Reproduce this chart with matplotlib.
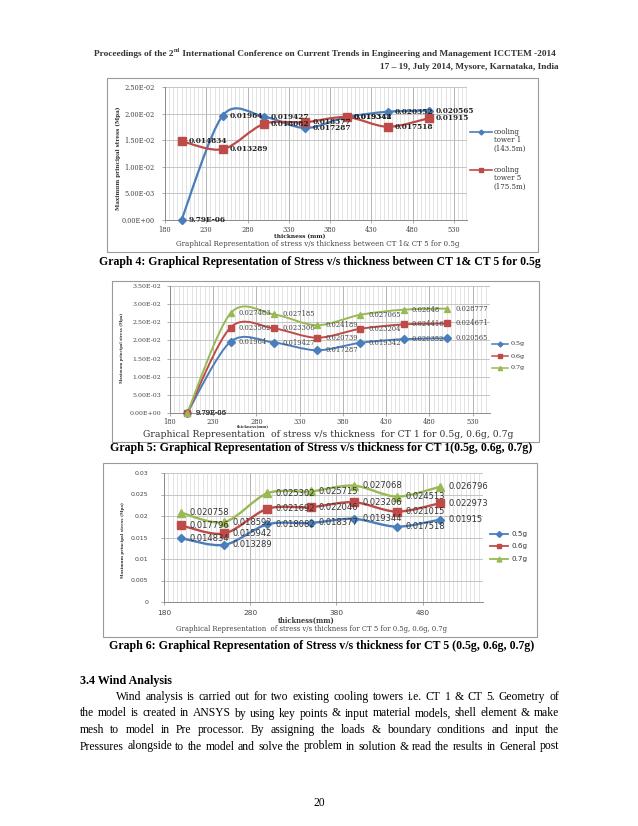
import matplotlib
matplotlib.use("Agg")
import matplotlib.pyplot as plt
from matplotlib.path import Path
from matplotlib.patches import PathPatch, Rectangle
from matplotlib.lines import Line2D
from matplotlib.ticker import MultipleLocator, FuncFormatter, FixedLocator

# ---------------- data ----------------
thickness = [200, 250, 300, 350, 400, 450, 500]
ct1_05g = [9.79e-06, 0.01964, 0.019427, 0.017287, 0.019342, 0.020352, 0.020565]
ct1_06g = [9.79e-06, 0.023562, 0.023306, 0.020739, 0.023204, 0.024416, 0.024671]
ct1_07g = [9.79e-06, 0.027483, 0.027185, 0.024189, 0.027065, 0.02848, 0.028777]
ct5_05g = [0.014834, 0.013289, 0.018082, 0.018377, 0.019344, 0.017518, 0.01915]
ct5_06g = [0.017796, 0.015942, 0.021692, 0.022046, 0.023206, 0.021015, 0.022973]
ct5_07g = [0.020758, 0.018592, 0.025302, 0.025715, 0.027068, 0.024513, 0.026796]

xticks_a = [180, 230, 280, 330, 380, 430, 480, 530]
xticks_b = [180, 280, 380, 480]

BLUE, RED, GREEN = "#4A7EBB", "#BE4B48", "#98B954"

W, H = 638, 826
fig = plt.figure(figsize=(W / 100, H / 100), dpi=100)
fig.patch.set_facecolor("white")
R = fig.canvas.get_renderer()

SERIF = "Liberation Serif"


def px(x, y):
    return x / W, 1 - y / H


def tw(s, size, **kw):
    t = fig.text(0, 0, s, fontsize=size, **kw)
    w = t.get_window_extent(R).width
    t.remove()
    return w


def fit(s, width, **kw):
    return 10 * width / tw(s, 10, **kw)


def fit_text(s, x0, x1, y, **kw):
    size = fit(s, x1 - x0, **{k: v for k, v in kw.items() if k in ("family", "weight")})
    fig.text(*px((x0 + x1) / 2, y), s, fontsize=size, ha="center", va="center", **kw)
    return size


def justify(line, x0, x1, y, size, **kw):
    words = line.split(" ")
    ws = [tw(w, size, **kw) for w in words]
    gap = (x1 - x0 - sum(ws)) / (len(words) - 1)
    x = x0
    for w, wd in zip(words, ws):
        fig.text(*px(x, y), w, fontsize=size, ha="left", va="center", **kw)
        x += wd + gap


def box(x0, y0, x1, y1):
    fig.add_artist(Rectangle(px(x0, y1), (x1 - x0) / W, (y1 - y0) / H,
                             transform=fig.transFigure, fill=False,
                             ec="#9a9a9a", lw=0.8, zorder=0))


def make_ax(x0, x1, y0, y1):
    return fig.add_axes([x0 / W, 1 - y1 / H, (x1 - x0) / W, (y1 - y0) / H])


def smooth(ax, xs, ys, color, lw, k=6.5):
    n = len(xs)
    verts = [(xs[0], ys[0])]
    codes = [Path.MOVETO]
    for i in range(n - 1):
        xa, ya = (xs[i - 1], ys[i - 1]) if i > 0 else (xs[i], ys[i])
        xd, yd = (xs[i + 2], ys[i + 2]) if i + 2 < n else (xs[i + 1], ys[i + 1])
        c1 = (xs[i] + (xs[i + 1] - xa) / k, ys[i] + (ys[i + 1] - ya) / k)
        c2 = (xs[i + 1] - (xd - xs[i]) / k, ys[i + 1] - (yd - ys[i]) / k)
        verts += [c1, c2, (xs[i + 1], ys[i + 1])]
        codes += [Path.CURVE4] * 3
    ax.add_patch(PathPatch(Path(verts, codes), fill=False, ec=color, lw=lw, zorder=3))


def fmt_val(v):
    return "%.2E" % v if v < 1e-3 else repr(v)


def style_ax(ax, xlim, ylim, ystep, xticks, yfmt, tickfont, tsize_y, tsize_x, ypad, xpad):
    ax.set_xlim(*xlim)
    ax.set_ylim(*ylim)
    ax.yaxis.set_major_locator(MultipleLocator(ystep))
    ax.xaxis.set_major_locator(FixedLocator(xticks))
    ax.xaxis.set_minor_locator(MultipleLocator(5))
    ax.yaxis.set_major_formatter(FuncFormatter(yfmt))
    ax.grid(True, which="major", axis="y", color="#bdbdbd", lw=0.6)
    ax.grid(True, which="minor", axis="x", color="#d4d4d4", lw=0.45)
    ax.grid(True, which="major", axis="x", color="#a8a8a8", lw=0.6)
    ax.set_axisbelow(True)
    for s in ("top", "right"):
        ax.spines[s].set_visible(False)
    for s in ("left", "bottom"):
        ax.spines[s].set_color("#8a8a8a")
        ax.spines[s].set_linewidth(0.7)
    ax.tick_params(axis="y", which="major", length=2.5, width=0.5, color="#8a8a8a",
                   labelsize=tsize_y, labelcolor="#444444", pad=ypad)
    ax.tick_params(axis="x", which="major", length=2.5, width=0.5, color="#8a8a8a",
                   labelsize=tsize_x, labelcolor="#444444", pad=xpad)
    ax.tick_params(axis="x", which="minor", length=0)
    for lab in ax.get_xticklabels() + ax.get_yticklabels():
        lab.set_family(tickfont)


def series(ax, ys, color, marker, ms, lw, lsize, lfont, lweight, lcolor, off=5):
    smooth(ax, thickness, ys, color, lw)
    ax.plot(thickness, ys, ls="none", marker=marker, ms=ms, color=color,
            mec=color, zorder=4, clip_on=False)
    for x, y in zip(thickness, ys):
        ax.annotate(fmt_val(y), (x, y), xytext=(off, 0), textcoords="offset points",
                    ha="left", va="center", fontsize=lsize, family=lfont,
                    weight=lweight, color=lcolor, zorder=5)


def legend_entry(x0, x1, y, color, marker, ms, lw, lines, tx, size, font, spacing):
    fig.add_artist(Line2D([x0 / W, x1 / W], [1 - y / H] * 2, color=color, lw=lw,
                          transform=fig.transFigure))
    fig.add_artist(Line2D([(x0 + x1) / 2 / W], [1 - y / H], color=color, marker=marker,
                          ms=ms, transform=fig.transFigure))
    for i, s in enumerate(lines):
        fig.text(*px(tx, y + i * spacing), s, fontsize=size, family=font,
                 ha="left", va="center", color="#333333")


# ---------------- header ----------------
hdr_kw = dict(family=SERIF, weight="bold", color="#333333")
h1a = "Proceedings of the 2"
h1b = "nd"
h1c = " International Conference on Current Trends in Engineering and Management ICCTEM -2014"
hs = 7.0
tot = tw(h1a, hs, **hdr_kw) + tw(h1b, hs * 0.6, **hdr_kw) + tw(h1c, hs, **hdr_kw)
hs = hs * (559 - 94) / tot
wa, wb = tw(h1a, hs, **hdr_kw), tw(h1b, hs * 0.6, **hdr_kw)
fig.text(*px(94, 54), h1a, fontsize=hs, ha="left", va="center", **hdr_kw)
fig.text(*px(94 + wa, 51), h1b, fontsize=hs * 0.6, ha="left", va="center", **hdr_kw)
fig.text(*px(94 + wa + wb, 54), h1c, fontsize=hs, ha="left", va="center", **hdr_kw)
fig.text(*px(559, 67), "17 \u2013 19, July 2014, Mysore, Karnataka, India",
         fontsize=hs, ha="right", va="center", **hdr_kw)

# ---------------- Graph 4 ----------------
box(107, 78, 538, 252)
ax1 = make_ax(165, 467, 87, 220)
style_ax(ax1, (180, 546), (0, 0.025), 0.005, xticks_a, lambda v, p: "%.2E" % v,
         "DejaVu Serif", 4.8, 4.8, 5, 1.5)
series(ax1, ct1_05g, BLUE, "D", 4.5, 1.6, 5.3, "DejaVu Serif", "bold", "#222222")
series(ax1, ct5_05g, RED, "s", 6, 1.6, 5.3, "DejaVu Serif", "bold", "#222222")
fit_text("thickness (mm)", 274, 326, 236.5, family="DejaVu Serif", weight="bold", color="#222222")
fit_text("Graphical Representation of stress v/s thickness between CT 1& CT 5 for 0.5g",
         175, 460, 244, family="DejaVu Serif", color="#444444")
s = fit("Maximum principal stress (Mpa)", 103, family="DejaVu Serif", weight="bold")
fig.text(*px(118, 158), "Maximum principal stress (Mpa)", rotation=90, fontsize=s,
         family="DejaVu Serif", weight="bold", ha="center", va="center", color="#333333")
legend_entry(470, 492, 132, BLUE, "D", 2.5, 1.2, ["cooling", "tower 1", "(143.5m)"],
             494, 5.0, "DejaVu Serif", 8.5)
legend_entry(470, 492, 170, RED, "s", 3.5, 1.2, ["cooling", "tower 5", "(175.5m)"],
             494, 5.0, "DejaVu Serif", 8.5)
cap_kw = dict(family=SERIF, weight="bold", color="black")
fit_text("Graph 4: Graphical Representation of Stress v/s thickness between CT 1& CT 5 for 0.5g",
         97, 542, 262, **cap_kw)

# ---------------- Graph 5 ----------------
box(112, 281, 539, 442)
ax2 = make_ax(170, 490, 286, 413)
style_ax(ax2, (180, 550), (0, 0.035), 0.005, xticks_a, lambda v, p: "%.2E" % v,
         "DejaVu Serif", 4.5, 4.8, 4, 0.8)
series(ax2, ct1_05g, BLUE, "D", 4, 1.4, 4.9, "DejaVu Serif", "normal", "#444444", 6)
series(ax2, ct1_06g, RED, "s", 5, 1.4, 4.9, "DejaVu Serif", "normal", "#444444", 6)
series(ax2, ct1_07g, GREEN, "^", 5, 1.4, 4.9, "DejaVu Serif", "normal", "#444444", 6)
fit_text("thickness(mm)", 237, 269, 426.5, family="DejaVu Serif", weight="bold", color="#333333")
fit_text("Graphical Representation  of stress v/s thickness  for CT 1 for 0.5g, 0.6g, 0.7g",
         143, 513, 434.5, family="DejaVu Serif", color="#333333")
s = fit("Maximum principal stress (Mpa)", 72, family="DejaVu Serif", weight="bold")
fig.text(*px(122, 348), "Maximum principal stress (Mpa)", rotation=90, fontsize=s,
         family="DejaVu Serif", weight="bold", ha="center", va="center", color="#333333")
for yy, c, m, ms, lab in [(344, BLUE, "D", 2.5, "0.5g"), (356, RED, "s", 3, "0.6g"),
                          (368, GREEN, "^", 3, "0.7g")]:
    legend_entry(492, 508, yy, c, m, ms, 1.1, [lab], 511, 4.6, "DejaVu Serif", 0)
fit_text("Graph 5: Graphical Representation of Stress v/s thickness for CT 1(0.5g, 0.6g, 0.7g)",
         110, 533, 448, **cap_kw)

# ---------------- Graph 6 ----------------
box(103, 463, 537, 637)
ax3 = make_ax(164, 483, 473, 602)
style_ax(ax3, (180, 550), (0, 0.03), 0.005, xticks_b, lambda v, p: "%g" % round(v, 4),
         "DejaVu Sans", 4.5, 5.3, 9, 3)
series(ax3, ct5_05g, BLUE, "D", 4.5, 1.7, 6, "DejaVu Sans", "normal", "#333333", 6)
series(ax3, ct5_06g, RED, "s", 6, 1.7, 6, "DejaVu Sans", "normal", "#333333", 6)
series(ax3, ct5_07g, GREEN, "^", 6, 1.7, 6, "DejaVu Sans", "normal", "#333333", 6)
fit_text("thickness(mm)", 278, 335, 620.5, family="DejaVu Serif", weight="bold", color="#333333")
fit_text("Graphical Representation  of stress v/s thickness for CT 5 for 0.5g, 0.6g, 0.7g",
         175, 448, 629, family="DejaVu Serif", color="#444444")
s = fit("Maximum principal stress (Mpa)", 76, family="DejaVu Serif", weight="bold")
fig.text(*px(123, 540), "Maximum principal stress (Mpa)", rotation=90, fontsize=s,
         family="DejaVu Serif", weight="bold", ha="center", va="center", color="#333333")
for yy, c, m, ms, lab in [(534, BLUE, "D", 3, "0.5g"), (546, RED, "s", 3.5, "0.6g"),
                          (559, GREEN, "^", 3.5, "0.7g")]:
    legend_entry(490, 508, yy, c, m, ms, 1.3, [lab], 511, 5.2, "DejaVu Sans", 0)
fit_text("Graph 6: Graphical Representation of Stress v/s thickness for CT 5 (0.5g, 0.6g, 0.7g)",
         108, 535, 646, **cap_kw)

# ---------------- body text ----------------
body_kw = dict(family=SERIF, color="black")
fig.text(*px(80, 681), "3.4 Wind Analysis",
         fontsize=fit("3.4 Wind Analysis", 92, family=SERIF, weight="bold"),
         ha="left", va="center", family=SERIF, weight="bold", color="black")
para = [
    ("Wind analysis is carried out for two existing cooling towers i.e. CT 1 & CT 5. Geometry of", 116, 697),
    ("the model is created in ANSYS by using key points & input material models, shell element & make", 80, 713.5),
    ("mesh to model in Pre processor. By assigning the loads & boundary conditions and input the", 80, 730),
    ("Pressures alongside to the model and solve the problem in solution & read the results in General post", 80, 746.5),
]
bs = fit(para[3][0], 470, family=SERIF)
for line, x0, y in para:
    justify(line, x0, 559, y, bs, **body_kw)
fig.text(*px(319, 803), "20", fontsize=bs, ha="center", va="center", **body_kw)

fig.savefig("out.png", dpi=100, facecolor="white")
